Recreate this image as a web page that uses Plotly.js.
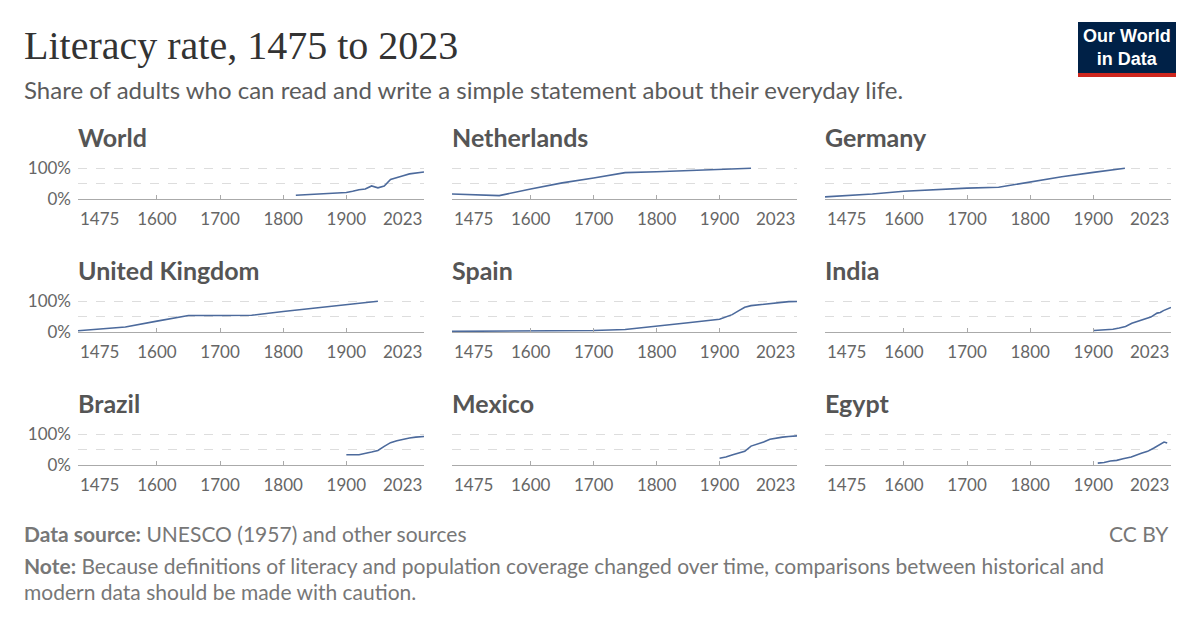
<!DOCTYPE html>
<html>
<head>
<meta charset="utf-8">
<script src="https://cdn.plot.ly/plotly-3.0.1.min.js"></script>
<style>
  html, body { margin: 0; padding: 0; background: #fff; }
  #chart { width: 1200px; height: 627px; }
</style>
</head>
<body>
<div id="chart"></div>
<script>
// ---------- DATA ----------
const panelNames = ["World", "Netherlands", "Germany", "United Kingdom", "Spain", "India", "Brazil", "Mexico", "Egypt"];

const worldYears  = [1820, 1870, 1900, 1910, 1920, 1930, 1940, 1950, 1960, 1970, 1980, 1990, 2000, 2010, 2023];
const worldValues = [12, 18, 21, 25, 30, 32, 42, 36, 42, 63, 70, 75, 81, 84, 87];

const netherlandsYears  = [1475, 1550, 1600, 1650, 1700, 1750, 1800, 1850, 1900, 1950];
const netherlandsValues = [16, 11, 32, 52, 68, 85, 88, 92, 96, 99];

const germanyYears  = [1475, 1550, 1600, 1650, 1700, 1750, 1800, 1850, 1900, 1950];
const germanyValues = [7, 16, 25, 31, 35, 38, 55, 72, 86, 99];

const ukYears  = [1475, 1550, 1600, 1650, 1700, 1750, 1800, 1850, 1900, 1950];
const ukValues = [4, 16, 35, 53, 53, 54, 66, 77, 88, 99];

const spainYears  = [1475, 1550, 1600, 1650, 1700, 1750, 1800, 1850, 1900, 1910, 1920, 1930, 1940, 1950, 1960, 1970, 1980, 1990, 2000, 2010, 2023];
const spainValues = [2, 3, 3, 4, 5, 8, 20, 30, 41, 48, 56, 68, 80, 85, 87, 90, 93, 95, 96, 98, 98.5];

const indiaYears  = [1901, 1911, 1921, 1931, 1941, 1951, 1961, 1971, 1981, 1991, 2001, 2006, 2011, 2018, 2023];
const indiaValues = [5, 6, 7, 9, 13, 18, 28, 34, 41, 48, 61, 63, 69, 74, 79];

const brazilYears  = [1900, 1920, 1940, 1950, 1960, 1970, 1980, 1990, 2000, 2010, 2015, 2023];
const brazilValues = [33, 33, 42, 47, 60, 72, 78, 83, 87, 90, 91, 92];

const mexicoYears  = [1900, 1910, 1921, 1930, 1940, 1950, 1960, 1970, 1980, 1990, 2000, 2010, 2023];
const mexicoValues = [22, 26, 33, 38, 44, 61, 67, 74, 83, 87, 90, 92, 94];

const egyptYears  = [1907, 1917, 1927, 1937, 1947, 1960, 1976, 1986, 1996, 2006, 2012, 2017];
const egyptValues = [6, 8, 13, 15, 20, 26, 38, 44, 55, 66, 74, 71];

const allYears  = [worldYears, netherlandsYears, germanyYears, ukYears, spainYears, indiaYears, brazilYears, mexicoYears, egyptYears];
const allValues = [worldValues, netherlandsValues, germanyValues, ukValues, spainValues, indiaValues, brazilValues, mexicoValues, egyptValues];

const xTickVals = [1475, 1600, 1700, 1800, 1900, 2023];
const xTickText = ["", "1600", "1700", "1800", "1900", ""];
const yTickVals = [0, 50, 100];
const yTickText = ["0%", "", "100%"];

// ---------- LAYOUT ----------
const W = 1200, H = 627;
const colPx = [[78, 424], [452, 797], [825, 1171]];
const rowPx = [[168, 199], [301, 332], [434, 465]]; // [y of 100%, y of 0%]
const yMax = 112;
const lineColor = "#4c6a9c";
const textGrey = "#666";

const traces = [];
const layout = {
  width: W, height: H,
  margin: {l: 0, r: 0, t: 0, b: 0},
  paper_bgcolor: "#fff", plot_bgcolor: "#fff",
  showlegend: false,
  font: {family: "Lato, 'Noto Sans', sans-serif", color: textGrey},
  annotations: [], shapes: []
};

for (let i = 0; i < 9; i++) {
  const r = Math.floor(i / 3), c = i % 3;
  const sfx = i === 0 ? "" : String(i + 1);
  const [x0, x1] = colPx[c];
  const [p100, p0] = rowPx[r];
  const pxPerUnit = (p0 - p100) / 100;
  const pTop = p0 - yMax * pxPerUnit;

  traces.push({
    type: "scatter", mode: "lines",
    x: allYears[i], y: allValues[i],
    xaxis: "x" + sfx, yaxis: "y" + sfx,
    line: {color: lineColor, width: 1.6},
    hoverinfo: "skip"
  });

  layout["xaxis" + sfx] = {
    domain: [x0 / W, x1 / W],
    anchor: "y" + sfx,
    range: [1475, 2023],
    tickvals: xTickVals, ticktext: xTickText,
    ticks: "inside", ticklen: 4, tickcolor: "#aaa", tickwidth: 1,
    showline: true, linecolor: "#aaa", linewidth: 1,
    showgrid: false, zeroline: false,
    tickfont: {size: 17, color: textGrey},
    ticklabelstandoff: 5,
    fixedrange: true
  };
  layout["yaxis" + sfx] = {
    domain: [1 - p0 / H, 1 - pTop / H],
    anchor: "x" + sfx,
    range: [0, yMax],
    tickvals: yTickVals, ticktext: c === 0 ? yTickText : ["", "", ""],
    showticklabels: c === 0,
    ticks: "", showline: false, zeroline: false,
    showgrid: true, gridcolor: "#ddd", griddash: "dash", gridwidth: 1,
    tickfont: {size: 17, color: textGrey},
    ticklabelstandoff: 6,
    fixedrange: true
  };

  // end tick labels aligned inwards
  layout.annotations.push({
    xref: "x" + sfx, yref: "paper", x: 1475, y: 1 - (p0 + 19) / H,
    text: "1475", showarrow: false, xanchor: "left", yanchor: "middle",
    font: {size: 17, color: textGrey}
  });
  layout.annotations.push({
    xref: "x" + sfx, yref: "paper", x: 2023, y: 1 - (p0 + 19) / H,
    text: "2023", showarrow: false, xanchor: "right", yanchor: "middle",
    font: {size: 17, color: textGrey}
  });
  // panel title
  layout.annotations.push({
    xref: "paper", yref: "paper", x: x0 / W, y: 1 - (p100 - 31) / H,
    text: "<b>" + panelNames[i] + "</b>", showarrow: false,
    xanchor: "left", yanchor: "middle", xshift: -2,
    font: {size: 25, color: "#555"}
  });
}

// Title / subtitle
layout.annotations.push({
  xref: "paper", yref: "paper", x: 22 / W, y: 1 - 46 / H,
  text: "Literacy rate, 1475 to 2023", showarrow: false,
  xanchor: "left", yanchor: "middle",
  font: {family: "'Liberation Serif', 'DejaVu Serif', serif", size: 40, color: "#333"}
});
layout.annotations.push({
  xref: "paper", yref: "paper", x: 22 / W, y: 1 - 89 / H,
  text: "Share of adults who can read and write a simple statement about their everyday life.",
  showarrow: false, xanchor: "left", yanchor: "middle",
  font: {size: 24, color: "#5b5b5b"}
});

// Footer
layout.annotations.push({
  xref: "paper", yref: "paper", x: 22 / W, y: 1 - 533 / H,
  text: "<b>Data source:</b> UNESCO (1957) and other sources", showarrow: false,
  xanchor: "left", yanchor: "middle", font: {size: 21, color: "#777"}
});
layout.annotations.push({
  xref: "paper", yref: "paper", x: 1171 / W, y: 1 - 533 / H,
  text: "CC BY", showarrow: false,
  xanchor: "right", yanchor: "middle", font: {size: 21, color: "#777"}
});
layout.annotations.push({
  xref: "paper", yref: "paper", x: 22 / W, y: 1 - 565 / H,
  text: "<b>Note:</b> Because definitions of literacy and population coverage changed over time, comparisons between historical and",
  showarrow: false, align: "left",
  xanchor: "left", yanchor: "middle", font: {size: 21, color: "#777"}
});
layout.annotations.push({
  xref: "paper", yref: "paper", x: 22 / W, y: 1 - 591 / H,
  text: "modern data should be made with caution.",
  showarrow: false, align: "left",
  xanchor: "left", yanchor: "middle", font: {size: 21, color: "#777"}
});

// Logo
layout.shapes.push({
  type: "rect", xref: "paper", yref: "paper",
  x0: 1078 / W, x1: 1176 / W, y0: 1 - 77 / H, y1: 1 - 22 / H,
  fillcolor: "#002147", line: {width: 0}
});
layout.shapes.push({
  type: "rect", xref: "paper", yref: "paper",
  x0: 1078 / W, x1: 1176 / W, y0: 1 - 77 / H, y1: 1 - 73 / H,
  fillcolor: "#ce261e", line: {width: 0}
});
layout.annotations.push({
  xref: "paper", yref: "paper", x: 1127 / W, y: 1 - 48 / H,
  text: "<b>Our World<br>in Data</b>", showarrow: false, align: "center",
  xanchor: "center", yanchor: "middle",
  font: {family: "'Liberation Sans Narrow', 'Liberation Sans', sans-serif", size: 18, color: "#fff"}
});

Plotly.newPlot("chart", traces, layout, {displayModeBar: false, staticPlot: true});
</script>
</body>
</html>
